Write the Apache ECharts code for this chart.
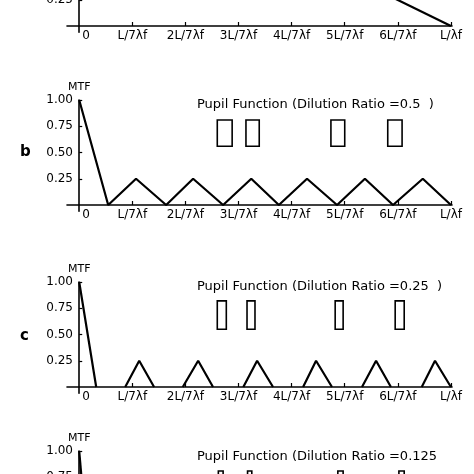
<!DOCTYPE html>
<html><head><meta charset="utf-8">
<script src="https://cdn.jsdelivr.net/npm/echarts@6/dist/echarts.min.js"></script>
<style>html,body{margin:0;padding:0;background:#fff}#c{width:474px;height:474px}</style>
</head><body><div id="c"></div>
<script>
// tick positions in units of L/7λf and their labels
const xTicks = [0, 1, 2, 3, 4, 5, 6, 7];
const xLabels = ['0', 'L/7λf', '2L/7λf', '3L/7λf', '4L/7λf', '5L/7λf', '6L/7λf', 'L/λf'];
const yTicks = [0.25, 0.5, 0.75, 1.0];

// MTF curves [frequency (L/7λf units), MTF]
const mtfA = [[5.95, 0.26], [7, 0]];
const mtfB = [[0, 1], [0.546, 0], [1.07, 0.25], [1.637, 0], [2.145, 0.25], [2.71, 0], [3.24, 0.25], [3.76, 0], [4.29, 0.25], [4.855, 0], [5.38, 0.25], [5.91, 0], [6.47, 0.25], [7, 0]];
const mtfC = [[0, 1], [0.32, 0], [0.5, '-'], [0.866, 0], [1.13, 0.25], [1.41, 0], [1.6, '-'], [1.95, 0], [2.24, 0.25], [2.52, 0], [2.8, '-'], [3.09, 0], [3.35, 0.25], [3.65, 0], [3.9, '-'], [4.216, 0], [4.46, 0.25], [4.76, 0], [5.0, '-'], [5.325, 0], [5.59, 0.25], [5.87, 0], [6.1, '-'], [6.45, 0], [6.70, 0.25], [7.0, 0]];
const mtfD = [[0, 1], [0.17, 0]];

// pupil function sub-apertures [x0, x1, y0, y1]
const pupilB = [[2.60, 2.88, 0.56, 0.81], [3.14, 3.39, 0.56, 0.81], [4.74, 5.00, 0.56, 0.81], [5.81, 6.08, 0.56, 0.81]];
const pupilC = [[2.60, 2.77, 0.55, 0.82], [3.16, 3.31, 0.55, 0.82], [4.82, 4.97, 0.55, 0.82], [5.95, 6.12, 0.55, 0.82]];
const pupilD = [[2.62, 2.71, 0.55, 0.81], [3.17, 3.25, 0.55, 0.81], [4.87, 4.97, 0.55, 0.81], [6.02, 6.12, 0.55, 0.81]];

const titles = ['Pupil Function (Dilution Ratio =0.5  )', 'Pupil Function (Dilution Ratio =0.25  )', 'Pupil Function (Dilution Ratio =0.125'];
const panelLetters = ['b', 'c'];

const FONT = 'DejaVu Sans';
const gridTops = [-79, 100, 282, 451];
const PXU = 105; // px per MTF unit
const grids = gridTops.map(t => ({ left: 67, width: 385, top: t, height: PXU * 1.06, outerBoundsMode: 'none', containLabel: false }));

const xAxes = grids.map((g, i) => ({
  type: 'value', gridIndex: i, min: -0.23, max: 7.02,
  splitLine: { show: false },
  axisLine: { onZero: true, lineStyle: { color: '#000', width: 1.6 } },
  axisTick: { show: true, inside: true, length: 4, customValues: xTicks.slice(1), lineStyle: { color: '#000', width: 1.2 } },
  axisLabel: {
    customValues: [0.13].concat(xTicks.slice(1)),
    formatter: (v) => { const k = xTicks.indexOf(Math.round(v * 100) / 100); return k >= 0 ? xLabels[k] : xLabels[0]; },
    color: '#000', fontFamily: FONT, fontSize: 12, margin: -2, showMinLabel: true, showMaxLabel: true
  }
}));
const yAxes = grids.map((g, i) => ({
  type: 'value', gridIndex: i, min: -0.06, max: 1.0,
  name: 'MTF', nameLocation: 'end', nameGap: 7,
  nameTextStyle: { color: '#000', fontFamily: FONT, fontSize: 11 },
  splitLine: { show: false },
  axisLine: { onZero: true, lineStyle: { color: '#000', width: 1.6 } },
  axisTick: { show: true, inside: true, length: 3, customValues: yTicks, lineStyle: { color: '#000', width: 1.2 } },
  axisLabel: { customValues: yTicks, formatter: v => v.toFixed(2), color: '#000', fontFamily: FONT, fontSize: 12, margin: -6 }
}));

function lineSeries(data, i) {
  return { type: 'line', xAxisIndex: i, yAxisIndex: i, data: data, showSymbol: false, symbol: 'none',
    connectNulls: false, lineStyle: { color: '#000', width: 2.2 }, silent: true, animation: false };
}
function rectSeries(data, i) {
  return { type: 'custom', xAxisIndex: i, yAxisIndex: i, data: data, encode: { x: [0, 1], y: [2, 3] }, animation: false, silent: true,
    renderItem: (params, api) => {
      const p0 = api.coord([api.value(0), api.value(3)]);
      const p1 = api.coord([api.value(1), api.value(2)]);
      return { type: 'rect', shape: { x: p0[0], y: p0[1], width: p1[0] - p0[0], height: p1[1] - p0[1] },
        style: { fill: 'none', stroke: '#000', lineWidth: 1.6 } };
    } };
}

const titleComps = [
  { text: titles[0], left: 197, top: 98 },
  { text: titles[1], left: 197, top: 280 },
  { text: titles[2], left: 197, top: 450 }
].map(t => ({ text: t.text, left: t.left, top: t.top, padding: 0, textStyle: { color: '#000', fontFamily: FONT, fontSize: 13, fontWeight: 'normal' } }));
titleComps.push({ text: panelLetters[0], left: 20, top: 145, padding: 0, textStyle: { color: '#000', fontFamily: FONT, fontSize: 15, fontWeight: 'bold' } });
titleComps.push({ text: panelLetters[1], left: 20, top: 329, padding: 0, textStyle: { color: '#000', fontFamily: FONT, fontSize: 15, fontWeight: 'bold' } });

const chart = echarts.init(document.getElementById('c'), null, { renderer: 'canvas' });
chart.setOption({
  backgroundColor: '#fff',
  animation: false,
  title: titleComps,
  grid: grids,
  xAxis: xAxes,
  yAxis: yAxes,
  series: [
    lineSeries(mtfA, 0), lineSeries(mtfB, 1), lineSeries(mtfC, 2), lineSeries(mtfD, 3),
    rectSeries(pupilB, 1), rectSeries(pupilC, 2), rectSeries(pupilD, 3)
  ]
});
</script></body></html>
